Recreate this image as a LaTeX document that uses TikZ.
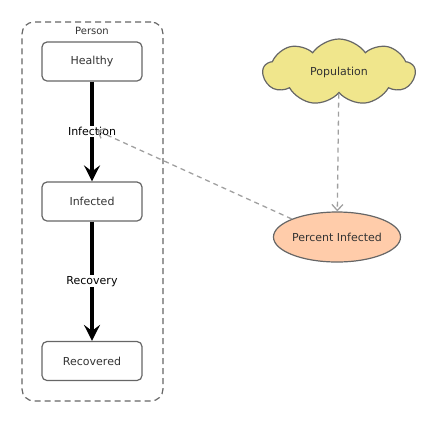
\documentclass[tikz,border=0pt]{standalone}
\usepackage{fontspec}
\setmainfont{DejaVu Sans}
\usetikzlibrary{shapes.geometric,shapes.symbols,arrows.meta}
\definecolor{edgegray}{RGB}{102,102,102}
\definecolor{dashgray}{RGB}{160,160,160}
\definecolor{khaki}{RGB}{240,230,140}
\definecolor{peach}{RGB}{255,204,170}
\tikzset{
  statebox/.style={draw=edgegray, line width=1.2pt, rounded corners=5pt, minimum width=100pt, minimum height=39pt, font=\fontsize{11}{13}\selectfont, text=black!80, fill=white},
  flow/.style={line width=3.2pt, -{Stealth[length=16pt,width=16pt,inset=6pt]}},
  flowlabel/.style={fill=white, inner sep=1pt, font=\fontsize{11}{13}\selectfont},
  dep/.style={draw=dashgray, line width=1.3pt, dash pattern=on 5pt off 4pt, -{Straight Barb[length=6pt,width=11pt]}},
}
\begin{document}
\begin{tikzpicture}[x=1pt,y=-1pt]
\useasboundingbox (0,0) rectangle (446,424);
\node[draw=edgegray, line width=1.2pt, dash pattern=on 6pt off 4pt, rounded corners=12pt, minimum width=141pt, minimum height=379pt] (person) at (92.5,211.5) {};
\node[font=\fontsize{10}{12}\selectfont, text=black!80] (personlbl) at (92,31) {Person};
\node[statebox] (healthy) at (92,61.5) {Healthy};
\node[statebox] (infected) at (92,201.5) {Infected};
\node[statebox] (recovered) at (92,361) {Recovered};
\node[cloud, cloud puffs=9, cloud puff arc=110, aspect=2.4, draw=edgegray, line width=1.2pt, fill=khaki, minimum width=152pt, minimum height=66pt, inner sep=0pt, font=\fontsize{11}{13}\selectfont, text=black!80] (population) at (339,72) {Population};
\node[ellipse, draw=edgegray, line width=1.2pt, fill=peach, minimum width=120pt, minimum height=50pt, inner sep=0pt, font=\fontsize{11}{13}\selectfont, text=black!80] (percent) at (337,237) {Percent Infected};
\draw[flow] (healthy) -- node[flowlabel] (infection) {Infection} (infected);
\draw[flow] (infected) -- node[flowlabel] (recovery) {Recovery} (recovered);
\draw[dep] (population) -- (percent);
\draw[dep] (percent.north west) -- ([xshift=5pt,yshift=1pt]infection.center);
\end{tikzpicture}
\end{document}
